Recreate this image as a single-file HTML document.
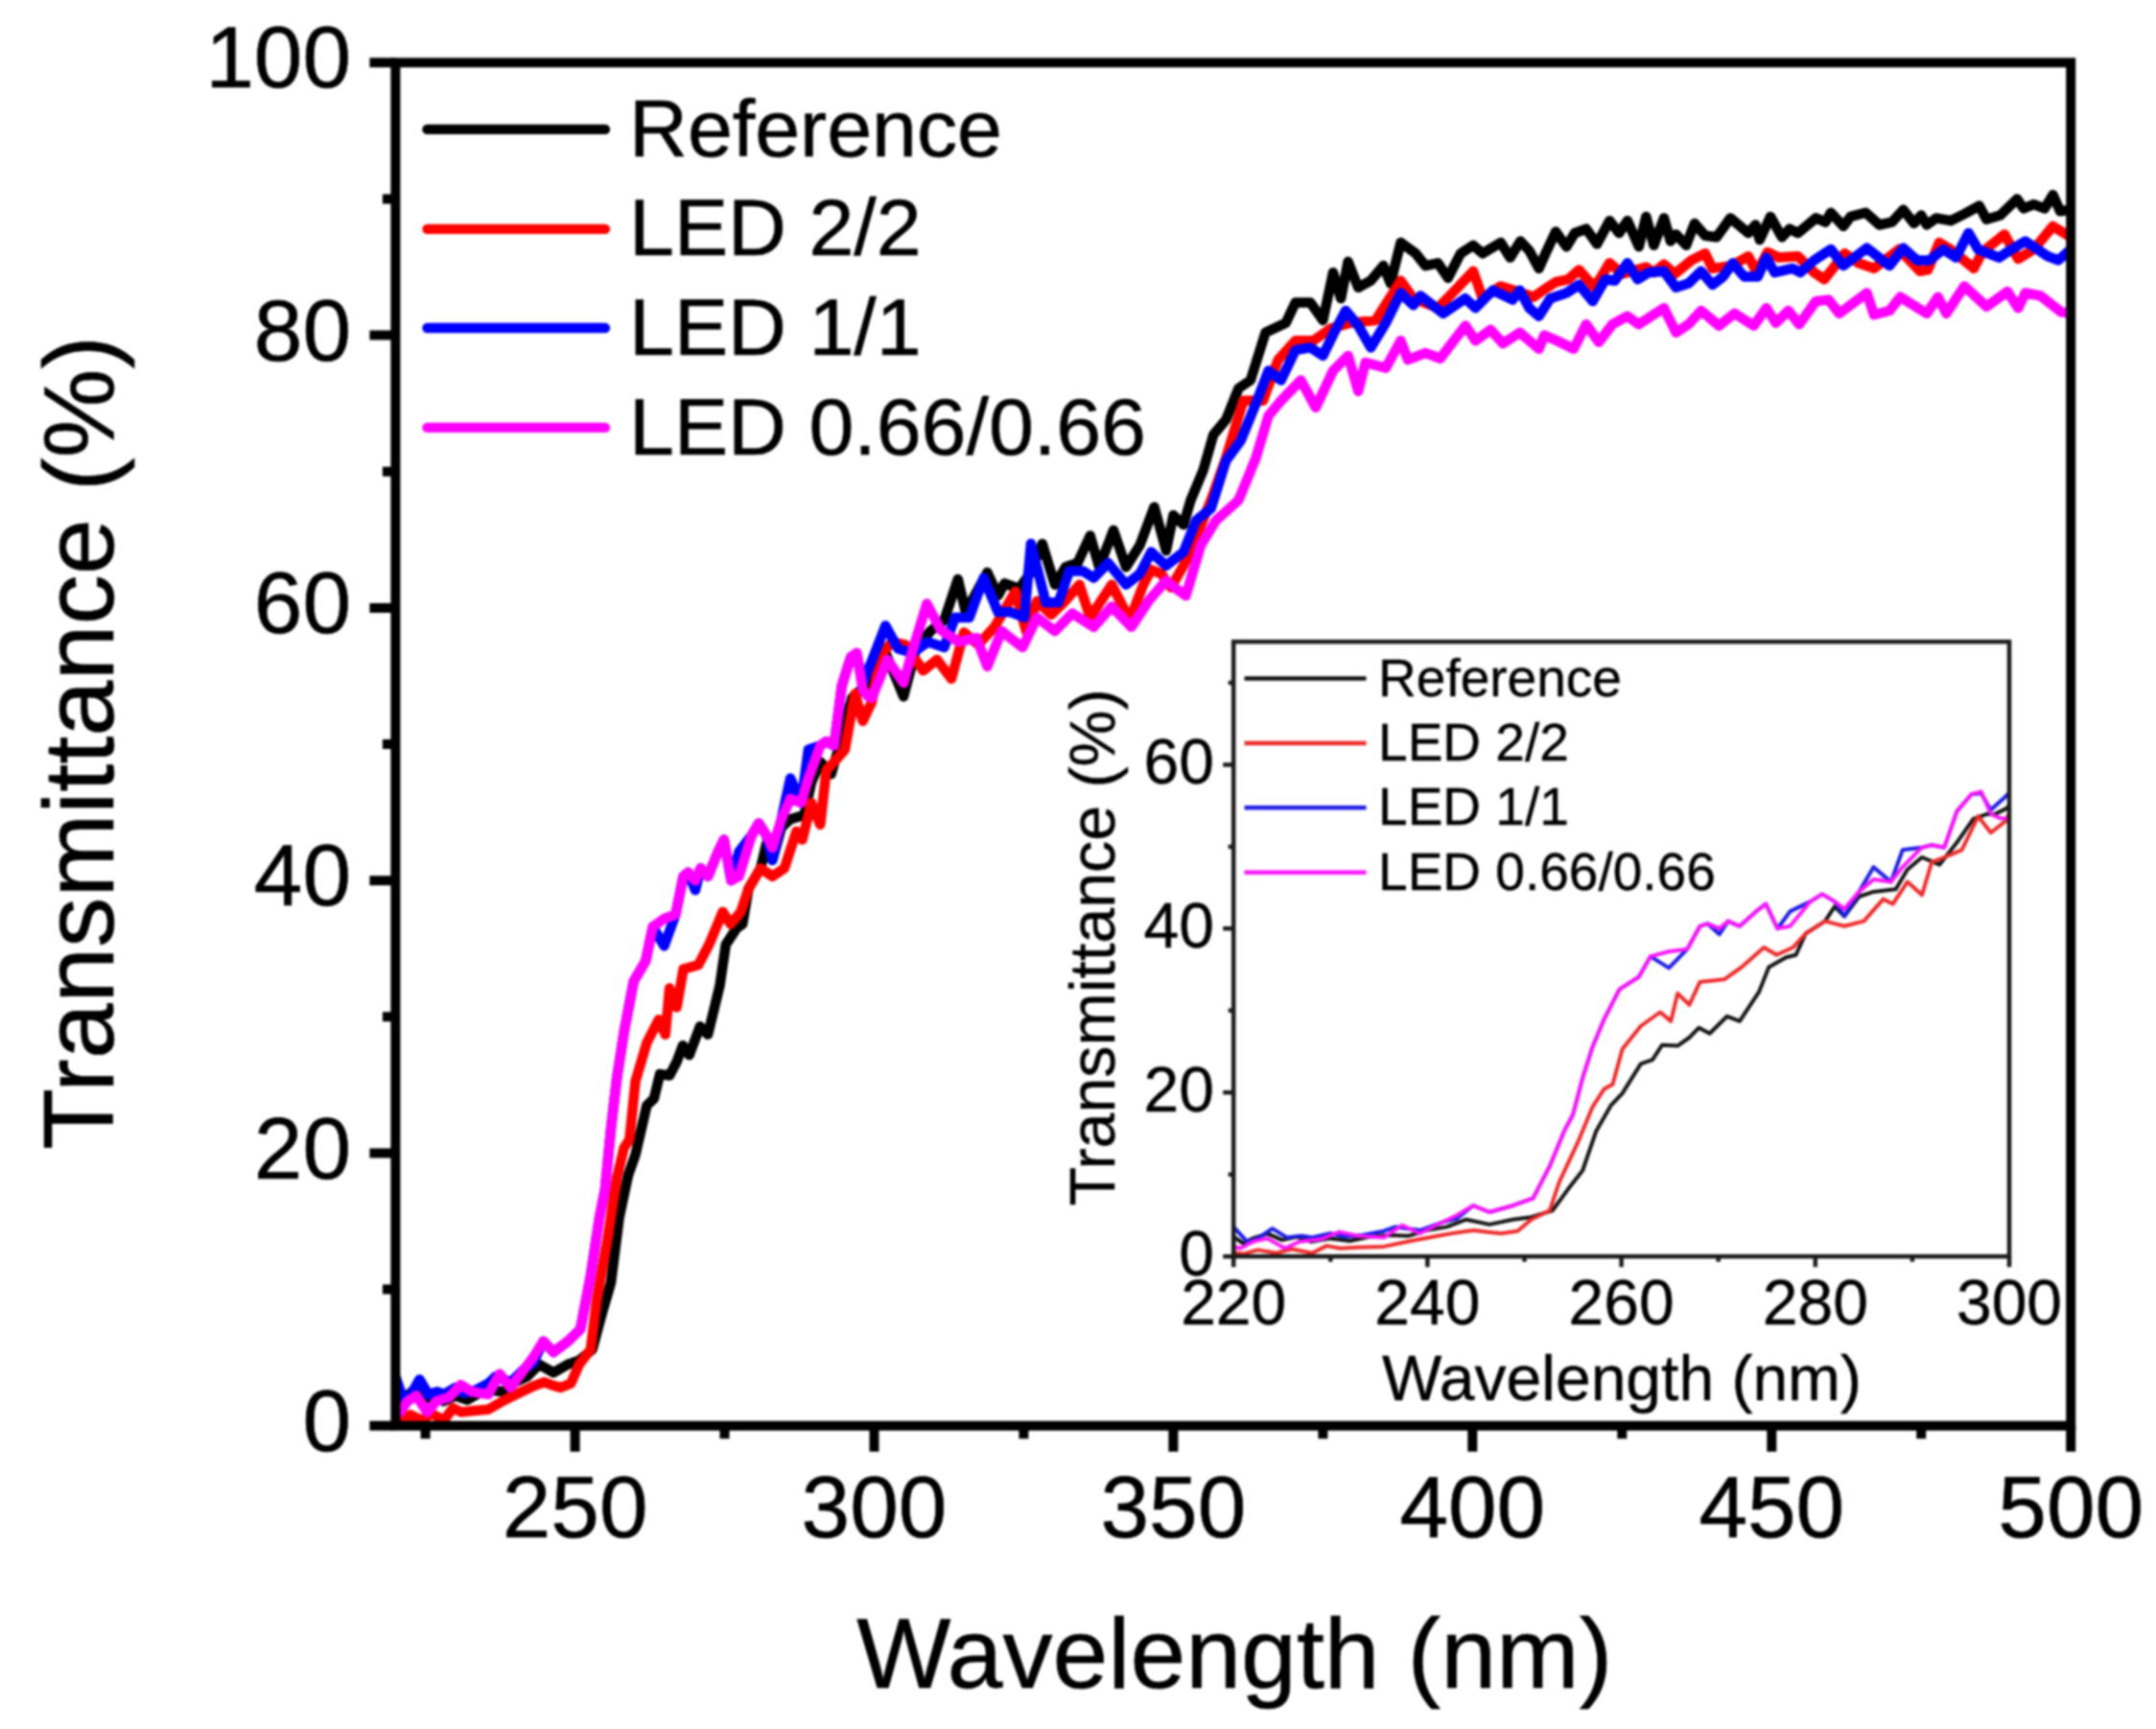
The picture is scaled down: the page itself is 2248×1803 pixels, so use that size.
<!DOCTYPE html>
<html><head><meta charset="utf-8"><title>Transmittance spectra</title><style>html,body{margin:0;padding:0;background:#fff;}svg{display:block;filter:blur(0.8px);}</style></head><body>
<svg width="2248" height="1803" viewBox="0 0 2248 1803">
<rect x="0" y="0" width="2248" height="1803" fill="#ffffff"/>
<defs><clipPath id="mc"><rect x="412.4" y="65.3" width="1746.7999999999997" height="1421.5"/></clipPath><clipPath id="ic"><rect x="1286.2" y="669.2" width="808.8" height="641.0"/></clipPath></defs>
<g clip-path="url(#mc)" fill="none" stroke-width="10.5" stroke-linejoin="round" stroke-linecap="round">
<path d="M412.4,1452.7 L418.6,1464.1 L424.9,1455.5 L434.2,1447.0 L443.6,1458.4 L453.0,1452.7 L462.3,1461.2 L474.8,1455.5 L487.3,1459.8 L499.7,1452.7 L512.2,1449.8 L524.7,1451.3 L537.2,1441.3 L549.6,1435.6 L562.1,1422.8 L577.1,1431.4 L592.1,1422.8 L603.9,1418.6 L617.6,1407.2 L627.6,1370.2 L637.0,1337.5 L645.7,1269.3 L655.1,1225.2 L662.6,1203.9 L674.4,1152.7 L681.9,1145.6 L688.1,1120.1 L698.1,1121.5 L705.6,1107.3 L711.9,1090.2 L718.7,1100.2 L729.9,1070.3 L738.1,1078.8 L750.5,1027.7 L756.8,985.0 L768.0,968.0 L774.2,963.7 L780.5,926.7 L793.0,905.4 L799.2,879.8 L805.4,896.9 L814.8,862.8 L824.1,854.2 L838.5,850.0 L846.0,815.9 L855.3,794.5 L866.6,807.3 L877.8,768.9 L888.4,727.7 L897.8,719.2 L901.5,720.6 L909.0,710.7 L923.3,680.8 L942.1,726.3 L955.2,676.5 L970.1,658.1 L984.5,646.7 L998.8,604.0 L1006.9,638.2 L1029.4,596.9 L1040.6,621.1 L1047.5,608.3 L1062.5,614.0 L1073.7,598.4 L1086.8,567.1 L1099.9,609.7 L1111.1,591.3 L1123.6,587.0 L1136.7,558.6 L1146.1,591.3 L1161.0,552.9 L1174.1,591.3 L1188.5,568.5 L1203.5,528.7 L1215.9,574.2 L1223.4,537.2 L1234.0,547.2 L1241.5,521.6 L1254.6,490.3 L1265.2,453.4 L1278.3,437.7 L1291.4,405.0 L1303.9,396.5 L1319.5,346.8 L1340.7,336.8 L1350.7,315.5 L1366.3,315.5 L1379.4,334.0 L1390.0,284.2 L1398.1,311.2 L1405.6,272.8 L1416.2,299.8 L1429.3,292.7 L1442.4,277.1 L1449.9,295.6 L1460.5,252.9 L1476.1,264.3 L1486.1,277.1 L1499.2,274.3 L1509.8,289.9 L1522.9,264.3 L1536.0,255.8 L1545.9,264.3 L1564.7,252.9 L1574.6,268.6 L1585.3,251.5 L1594.6,261.5 L1604.6,279.9 L1612.1,262.9 L1622.1,241.6 L1633.3,257.2 L1642.0,243.0 L1653.9,238.7 L1665.1,254.4 L1678.2,230.2 L1688.2,243.0 L1696.9,230.2 L1708.8,257.2 L1716.3,225.9 L1724.4,255.8 L1735.0,227.4 L1741.8,251.5 L1747.5,244.4 L1758.1,255.8 L1766.8,233.0 L1778.0,245.8 L1789.9,247.3 L1804.2,227.4 L1822.9,243.0 L1830.4,234.5 L1834.8,250.1 L1846.0,225.9 L1857.9,247.3 L1866.0,238.7 L1874.7,243.0 L1893.4,227.4 L1903.4,231.6 L1909.0,221.7 L1922.1,235.9 L1929.6,225.9 L1945.2,221.7 L1959.6,234.5 L1972.7,231.6 L1984.5,218.8 L1995.7,233.0 L2003.2,224.5 L2008.9,234.5 L2018.8,227.4 L2033.8,230.2 L2048.2,223.1 L2063.7,214.6 L2071.2,228.8 L2085.6,224.5 L2103.1,207.5 L2109.9,217.4 L2120.5,213.1 L2131.8,217.4 L2140.5,203.2 L2148.0,220.2 L2159.2,218.8" stroke="#000000"/>
<path d="M412.4,1479.7 L418.6,1482.5 L428.0,1475.4 L439.8,1481.1 L449.8,1474.0 L462.9,1481.1 L472.3,1468.3 L481.0,1472.6 L492.3,1471.2 L509.1,1469.7 L526.6,1459.8 L544.0,1451.3 L555.9,1445.6 L567.1,1441.3 L577.1,1444.9 L584.6,1447.0 L595.2,1442.7 L603.9,1422.8 L615.8,1407.2 L622.0,1357.4 L633.9,1289.2 L643.2,1228.1 L650.7,1196.8 L656.3,1188.3 L662.6,1127.2 L674.4,1087.4 L686.9,1063.2 L693.8,1078.8 L698.1,1030.5 L705.6,1050.4 L712.5,1010.6 L728.1,1006.3 L739.3,985.0 L753.6,950.9 L761.8,963.7 L772.4,950.9 L780.5,926.7 L793.0,905.4 L805.4,913.9 L817.9,905.4 L830.4,867.0 L836.6,875.6 L846.0,837.2 L855.3,859.9 L861.6,803.1 L869.7,794.5 L880.9,781.7 L891.5,723.5 L899.6,751.9 L909.0,732.0 L917.7,683.7 L930.2,669.4 L943.9,672.3 L962.6,699.3 L977.0,687.9 L992.0,707.8 L1005.1,659.5 L1020.0,672.3 L1036.9,653.8 L1058.7,616.8 L1069.9,658.1 L1081.2,626.8 L1096.1,641.0 L1109.2,628.2 L1125.5,609.7 L1136.7,643.9 L1159.2,609.7 L1177.9,646.7 L1192.2,609.7 L1200.3,594.1 L1210.9,598.4 L1220.9,612.6 L1234.0,589.8 L1247.1,560.0 L1262.7,521.6 L1278.3,477.5 L1296.4,417.8 L1317.0,417.8 L1332.6,375.2 L1350.7,355.3 L1369.4,355.3 L1387.5,342.5 L1408.1,336.8 L1434.3,334.0 L1460.5,292.7 L1473.6,311.2 L1499.2,321.2 L1517.3,302.7 L1536.0,282.8 L1545.9,311.2 L1564.7,298.4 L1582.8,304.1 L1599.0,309.8 L1609.0,302.7 L1622.1,294.2 L1635.2,291.3 L1646.4,281.4 L1662.6,299.8 L1678.2,274.3 L1691.3,285.6 L1716.3,278.5 L1724.4,284.2 L1735.0,275.7 L1746.2,285.6 L1763.7,271.4 L1778.0,264.3 L1785.5,279.9 L1805.5,277.1 L1822.9,267.2 L1831.7,284.2 L1842.9,262.9 L1854.8,268.6 L1874.7,267.2 L1891.6,284.2 L1902.2,291.3 L1923.4,264.3 L1937.7,274.3 L1954.0,279.9 L1980.2,260.0 L2002.0,282.8 L2010.1,281.4 L2022.0,252.9 L2033.8,260.0 L2058.1,279.9 L2066.9,262.9 L2090.0,244.4 L2104.3,270.0 L2120.5,260.0 L2140.5,235.9 L2159.2,247.3" stroke="#ff0000"/>
<path d="M412.4,1435.6 L421.1,1461.2 L428.0,1455.5 L437.4,1438.5 L446.7,1454.1 L456.1,1451.3 L462.9,1454.1 L474.8,1447.0 L484.1,1452.7 L495.4,1449.8 L509.1,1442.7 L516.6,1435.6 L532.8,1441.3 L547.2,1427.1 L555.9,1421.4 L566.5,1398.7 L577.1,1410.0 L592.1,1398.7 L605.2,1385.9 L615.8,1330.4 L625.1,1269.3 L630.8,1240.9 L637.0,1176.9 L643.2,1124.3 L650.7,1076.0 L660.7,1023.4 L673.2,1002.1 L680.7,966.5 L692.5,986.4 L704.4,953.7 L712.5,913.9 L717.5,909.7 L725.0,928.2 L730.6,905.4 L738.1,913.9 L748.7,888.3 L754.9,875.6 L762.4,918.2 L770.5,888.3 L783.6,871.3 L791.1,858.5 L799.2,871.3 L805.4,896.9 L814.8,854.2 L824.1,811.6 L835.4,837.2 L842.9,781.7 L855.3,777.5 L861.6,773.2 L869.7,777.5 L877.8,714.9 L887.2,685.1 L893.4,683.7 L899.6,712.1 L909.0,689.3 L923.3,652.4 L936.4,676.5 L951.4,680.8 L967.6,669.4 L984.5,675.1 L995.7,643.9 L1010.7,643.9 L1025.7,602.6 L1040.6,638.2 L1053.1,638.2 L1068.1,643.9 L1074.9,567.1 L1090.5,628.2 L1103.6,628.2 L1114.9,595.5 L1129.2,595.5 L1140.4,602.6 L1155.4,587.0 L1174.1,609.7 L1188.5,598.4 L1200.3,575.6 L1215.9,589.8 L1234.0,575.6 L1247.1,542.9 L1262.7,530.1 L1278.3,480.4 L1293.9,459.1 L1309.5,420.7 L1322.6,386.6 L1335.7,396.5 L1350.7,365.2 L1366.3,362.4 L1379.4,370.9 L1392.5,343.9 L1403.1,324.0 L1416.2,339.6 L1429.3,362.4 L1444.9,336.8 L1460.5,305.5 L1473.6,318.3 L1481.1,308.4 L1504.8,326.9 L1527.9,311.2 L1538.5,321.2 L1556.6,302.7 L1577.1,312.6 L1584.6,302.7 L1594.6,321.2 L1604.6,329.7 L1616.4,311.2 L1633.3,305.5 L1646.4,297.0 L1660.7,314.1 L1673.8,291.3 L1683.8,292.7 L1696.9,274.3 L1707.5,291.3 L1718.8,284.2 L1735.0,282.8 L1747.5,299.8 L1760.6,295.6 L1773.7,282.8 L1785.5,297.0 L1796.7,288.5 L1806.7,274.3 L1818.6,288.5 L1832.9,288.5 L1841.7,268.6 L1850.4,284.2 L1869.1,279.9 L1877.2,284.2 L1891.6,271.4 L1909.0,260.0 L1922.1,277.1 L1946.5,258.6 L1970.2,277.1 L1984.5,258.6 L1998.9,271.4 L2012.0,271.4 L2026.3,260.0 L2039.4,268.6 L2052.5,243.0 L2062.5,260.0 L2084.3,268.6 L2097.4,260.0 L2111.8,251.5 L2134.9,267.2 L2146.1,271.4 L2159.2,260.0" stroke="#0000ff"/>
<path d="M412.4,1469.7 L416.8,1472.6 L424.9,1461.2 L434.2,1455.5 L445.5,1472.6 L454.8,1461.2 L468.5,1456.9 L480.4,1444.2 L492.3,1451.3 L509.1,1454.1 L521.0,1432.8 L532.2,1447.0 L547.2,1427.1 L555.9,1415.7 L566.5,1398.7 L577.1,1410.0 L592.1,1398.7 L605.2,1385.9 L615.8,1330.4 L625.1,1269.3 L630.8,1240.9 L637.0,1176.9 L643.2,1124.3 L650.7,1076.0 L660.7,1023.4 L673.2,1002.1 L680.7,966.5 L692.5,958.0 L704.4,953.7 L712.5,913.9 L717.5,909.7 L725.0,918.2 L730.6,905.4 L738.1,913.9 L748.7,888.3 L754.9,875.6 L762.4,918.2 L770.5,913.9 L783.6,871.3 L791.1,858.5 L799.2,871.3 L805.4,884.1 L814.8,854.2 L824.1,832.9 L835.4,837.2 L842.9,811.6 L855.3,777.5 L861.6,773.2 L869.7,777.5 L877.8,714.9 L887.2,685.1 L893.4,680.8 L899.6,719.2 L905.2,726.3 L909.0,727.7 L925.2,687.9 L942.1,712.1 L952.0,676.5 L966.4,629.6 L980.7,656.6 L999.4,669.4 L1018.2,665.2 L1029.4,695.0 L1044.4,658.1 L1066.2,675.1 L1081.2,643.9 L1099.9,658.1 L1118.0,639.6 L1140.4,653.8 L1159.2,632.5 L1179.7,653.8 L1198.5,625.4 L1215.9,605.5 L1226.5,614.0 L1236.5,621.1 L1252.1,568.5 L1267.7,542.9 L1291.4,521.6 L1309.5,477.5 L1322.6,433.5 L1335.7,417.8 L1356.3,396.5 L1371.9,424.9 L1390.0,386.6 L1405.6,370.9 L1416.2,407.9 L1423.7,378.0 L1444.9,383.7 L1460.5,355.3 L1468.0,375.2 L1486.1,368.1 L1501.7,373.8 L1527.9,339.6 L1538.5,355.3 L1554.1,343.9 L1567.2,358.1 L1584.6,346.8 L1604.6,363.8 L1610.2,349.6 L1623.3,355.3 L1640.8,363.8 L1653.9,338.2 L1667.0,356.7 L1681.3,338.2 L1696.9,329.7 L1708.8,338.2 L1735.0,321.2 L1747.5,346.8 L1760.6,338.2 L1773.7,324.0 L1792.4,339.6 L1808.6,326.9 L1828.6,339.6 L1841.7,321.2 L1851.6,336.8 L1864.7,324.0 L1876.0,338.2 L1893.4,314.1 L1906.5,312.6 L1917.8,326.9 L1946.5,305.5 L1954.0,328.3 L1970.2,324.0 L1981.4,309.8 L2008.9,326.9 L2020.7,309.8 L2029.4,326.9 L2048.2,298.4 L2071.2,319.7 L2093.1,304.1 L2104.3,321.2 L2111.8,305.5 L2127.4,308.4 L2149.2,325.4 L2159.2,326.9" stroke="#ff00ff"/>
</g>
<rect x="412.4" y="65.3" width="1746.7999999999997" height="1421.5" fill="none" stroke="#000" stroke-width="10" stroke-linejoin="miter"/>
<path d="M599.6,1486.8 V1513.8 M911.5,1486.8 V1513.8 M1223.4,1486.8 V1513.8 M1535.3,1486.8 V1513.8 M1847.3,1486.8 V1513.8 M2159.2,1486.8 V1513.8 M443.6,1486.8 V1500.3 M755.5,1486.8 V1500.3 M1067.4,1486.8 V1500.3 M1379.4,1486.8 V1500.3 M1691.3,1486.8 V1500.3 M2003.2,1486.8 V1500.3 M412.4,1486.8 H385.4 M412.4,1202.5 H385.4 M412.4,918.2 H385.4 M412.4,633.9 H385.4 M412.4,349.6 H385.4 M412.4,65.3 H385.4 M412.4,1344.6 H398.9 M412.4,1060.3 H398.9 M412.4,776.0 H398.9 M412.4,491.8 H398.9 M412.4,207.5 H398.9" stroke="#000" stroke-width="10" fill="none"/>
<g font-family="'Liberation Sans', Arial, Helvetica, sans-serif" fill="#000" stroke="#000" stroke-width="0.6">
<text x="366" y="1512.8" font-size="91" text-anchor="end">0</text>
<text x="366" y="1228.5" font-size="91" text-anchor="end">20</text>
<text x="366" y="944.2" font-size="91" text-anchor="end">40</text>
<text x="366" y="659.9" font-size="91" text-anchor="end">60</text>
<text x="366" y="375.6" font-size="91" text-anchor="end">80</text>
<text x="366" y="91.3" font-size="91" text-anchor="end">100</text>
<text x="599.6" y="1603" font-size="91" text-anchor="middle">250</text>
<text x="911.5" y="1603" font-size="91" text-anchor="middle">300</text>
<text x="1223.4" y="1603" font-size="91" text-anchor="middle">350</text>
<text x="1535.3" y="1603" font-size="91" text-anchor="middle">400</text>
<text x="1847.3" y="1603" font-size="91" text-anchor="middle">450</text>
<text x="2159.2" y="1603" font-size="91" text-anchor="middle">500</text>
<text x="893.3" y="1760" font-size="104">Wavelength (nm)</text>
<text transform="translate(118.4,1198.8) rotate(-90)" font-size="104.4">Transmittance (%)</text>
<path d="M445.4,134.9 H631" stroke="#000000" stroke-width="10.3" stroke-linecap="round"/>
<text x="656" y="162.5" font-size="84.3">Reference</text>
<path d="M445.4,238.8 H631" stroke="#ff0000" stroke-width="10.3" stroke-linecap="round"/>
<text x="656" y="266.2" font-size="84.3">LED 2/2</text>
<path d="M445.4,342.0 H631" stroke="#0000ff" stroke-width="10.3" stroke-linecap="round"/>
<text x="656" y="369.9" font-size="84.3">LED 1/1</text>
<path d="M445.4,445.9 H631" stroke="#ff00ff" stroke-width="10.3" stroke-linecap="round"/>
<text x="656" y="473.6" font-size="84.3">LED 0.66/0.66</text>
</g>
<g clip-path="url(#ic)" fill="none" stroke-width="4" stroke-linejoin="round" stroke-linecap="round">
<path d="M1286.2,1289.7 L1296.3,1296.5 L1306.4,1291.4 L1321.6,1286.3 L1336.8,1293.1 L1351.9,1289.7 L1367.1,1294.8 L1387.3,1291.4 L1407.5,1294.0 L1427.7,1289.7 L1448.0,1288.0 L1468.2,1288.8 L1488.4,1282.9 L1508.6,1279.4 L1528.8,1271.7 L1553.1,1276.9 L1577.4,1271.7 L1596.6,1269.2 L1618.8,1262.3 L1635.0,1240.1 L1650.2,1220.5 L1664.3,1179.4 L1679.5,1152.9 L1691.6,1140.1 L1710.8,1109.4 L1723.0,1105.1 L1733.1,1089.7 L1749.2,1090.6 L1761.4,1082.0 L1771.5,1071.7 L1782.6,1077.7 L1800.8,1059.8 L1813.9,1064.9 L1834.2,1034.1 L1844.3,1008.5 L1862.5,998.2 L1872.6,995.7 L1882.7,973.5 L1902.9,960.6 L1913.0,945.3 L1923.1,955.5 L1938.3,935.0 L1953.5,929.9 L1976.7,927.3 L1988.8,906.8 L2004.0,894.0 L2022.2,901.7 L2040.4,878.6 L2057.6,853.8 L2072.8,848.7 L2078.8,849.5 L2091.0,843.6 L2114.2,825.6" stroke="#141414"/>
<path d="M1286.2,1305.9 L1296.3,1307.6 L1311.5,1303.4 L1330.7,1306.8 L1346.9,1302.5 L1368.1,1306.8 L1383.3,1299.1 L1397.4,1301.7 L1415.6,1300.8 L1442.9,1299.9 L1471.2,1294.0 L1499.5,1288.8 L1518.7,1285.4 L1536.9,1282.9 L1553.1,1285.0 L1565.2,1286.3 L1582.4,1283.7 L1596.6,1271.7 L1615.8,1262.3 L1625.9,1232.4 L1645.1,1191.4 L1660.3,1154.7 L1672.4,1135.8 L1681.5,1130.7 L1691.6,1094.0 L1710.8,1070.0 L1731.0,1055.5 L1742.2,1064.9 L1749.2,1035.9 L1761.4,1047.8 L1772.5,1023.9 L1797.8,1021.3 L1816.0,1008.5 L1839.2,988.0 L1852.4,995.7 L1869.5,988.0 L1882.7,973.5 L1902.9,960.6 L1923.1,965.8 L1943.3,960.6 L1963.6,937.6 L1973.7,942.7 L1988.8,919.6 L2004.0,933.3 L2014.1,899.1 L2027.3,894.0 L2045.5,886.3 L2062.6,851.2 L2075.8,868.3 L2091.0,856.4 L2105.1,827.3" stroke="#ee2a2a"/>
<path d="M1286.2,1279.4 L1300.4,1294.8 L1311.5,1291.4 L1326.6,1281.1 L1341.8,1290.5 L1357.0,1288.8 L1368.1,1290.5 L1387.3,1286.3 L1402.5,1289.7 L1420.7,1288.0 L1442.9,1283.7 L1455.0,1279.4 L1481.3,1282.9 L1504.6,1274.3 L1518.7,1270.9 L1535.9,1257.2 L1553.1,1264.0 L1577.4,1257.2 L1598.6,1249.5 L1615.8,1216.2 L1631.0,1179.4 L1640.1,1162.3 L1650.2,1123.9 L1660.3,1092.3 L1672.4,1063.2 L1688.6,1031.6 L1708.8,1018.8 L1720.9,997.4 L1740.1,1009.4 L1759.3,989.7 L1772.5,965.8 L1780.6,963.2 L1792.7,974.3 L1801.8,960.6 L1813.9,965.8 L1831.1,950.4 L1841.2,942.7 L1853.4,968.3 L1866.5,950.4 L1887.7,940.1 L1899.9,932.4 L1913.0,940.1 L1923.1,955.5 L1938.3,929.9 L1953.5,904.2 L1971.7,919.6 L1983.8,886.3 L2004.0,883.7 L2014.1,881.2 L2027.3,883.7 L2040.4,846.1 L2055.6,828.2 L2065.7,827.3 L2075.8,844.4 L2091.0,830.7 L2114.2,808.5" stroke="#1c1ce6"/>
<path d="M1286.2,1299.9 L1293.3,1301.7 L1306.4,1294.8 L1321.6,1291.4 L1339.8,1301.7 L1354.9,1294.8 L1377.2,1292.3 L1396.4,1284.6 L1415.6,1288.8 L1442.9,1290.5 L1462.1,1277.7 L1480.3,1286.3 L1504.6,1274.3 L1518.7,1267.5 L1535.9,1257.2 L1553.1,1264.0 L1577.4,1257.2 L1598.6,1249.5 L1615.8,1216.2 L1631.0,1179.4 L1640.1,1162.3 L1650.2,1123.9 L1660.3,1092.3 L1672.4,1063.2 L1688.6,1031.6 L1708.8,1018.8 L1720.9,997.4 L1740.1,992.3 L1759.3,989.7 L1772.5,965.8 L1780.6,963.2 L1792.7,968.3 L1801.8,960.6 L1813.9,965.8 L1831.1,950.4 L1841.2,942.7 L1853.4,968.3 L1866.5,965.8 L1887.7,940.1 L1899.9,932.4 L1913.0,940.1 L1923.1,947.8 L1938.3,929.9 L1953.5,917.1 L1971.7,919.6 L1983.8,904.2 L2004.0,883.7 L2014.1,881.2 L2027.3,883.7 L2040.4,846.1 L2055.6,828.2 L2065.7,825.6 L2075.8,848.7 L2084.9,853.0 L2091.0,853.8" stroke="#fa14fa"/>
</g>
<rect x="1286.2" y="669.2" width="808.8" height="641.0" fill="none" stroke="#1a1a1a" stroke-width="4.5"/>
<path d="M1286.2,1310.2 V1321.2 M1488.4,1310.2 V1321.2 M1690.6,1310.2 V1321.2 M1892.8,1310.2 V1321.2 M2095.0,1310.2 V1321.2 M1387.3,1310.2 V1315.7 M1589.5,1310.2 V1315.7 M1791.7,1310.2 V1315.7 M1993.9,1310.2 V1315.7 M1286.2,1310.2 H1275.2 M1286.2,1139.3 H1275.2 M1286.2,968.3 H1275.2 M1286.2,797.4 H1275.2 M1286.2,1224.7 H1280.7 M1286.2,1053.8 H1280.7 M1286.2,882.9 H1280.7 M1286.2,711.9 H1280.7" stroke="#1a1a1a" stroke-width="4.5" fill="none"/>
<g font-family="'Liberation Sans', Arial, Helvetica, sans-serif" fill="#000" stroke="#000" stroke-width="0.4">
<text x="1266" y="1329.6" font-size="66" text-anchor="end">0</text>
<text x="1266" y="1158.7" font-size="66" text-anchor="end">20</text>
<text x="1266" y="987.7" font-size="66" text-anchor="end">40</text>
<text x="1266" y="816.8" font-size="66" text-anchor="end">60</text>
<text x="1286.2" y="1381" font-size="66" text-anchor="middle">220</text>
<text x="1488.4" y="1381" font-size="66" text-anchor="middle">240</text>
<text x="1690.6" y="1381" font-size="66" text-anchor="middle">260</text>
<text x="1892.8" y="1381" font-size="66" text-anchor="middle">280</text>
<text x="2095.0" y="1381" font-size="66" text-anchor="middle">300</text>
<text x="1441" y="1460" font-size="66">Wavelength (nm)</text>
<text transform="translate(1162,1257.5) rotate(-90)" font-size="66.3">Transmittance (%)</text>
<path d="M1297.5,707.5 H1424.5" stroke="#141414" stroke-width="4.6"/>
<text x="1437.1" y="725.6" font-size="55">Reference</text>
<path d="M1297.5,775.0 H1424.5" stroke="#ee2a2a" stroke-width="4.6"/>
<text x="1437.1" y="792.9" font-size="55">LED 2/2</text>
<path d="M1297.5,842.3 H1424.5" stroke="#1c1ce6" stroke-width="4.6"/>
<text x="1437.1" y="860.2" font-size="55">LED 1/1</text>
<path d="M1297.5,909.8 H1424.5" stroke="#fa14fa" stroke-width="4.6"/>
<text x="1437.1" y="927.6" font-size="55">LED 0.66/0.66</text>
</g>
</svg>
</body></html>
